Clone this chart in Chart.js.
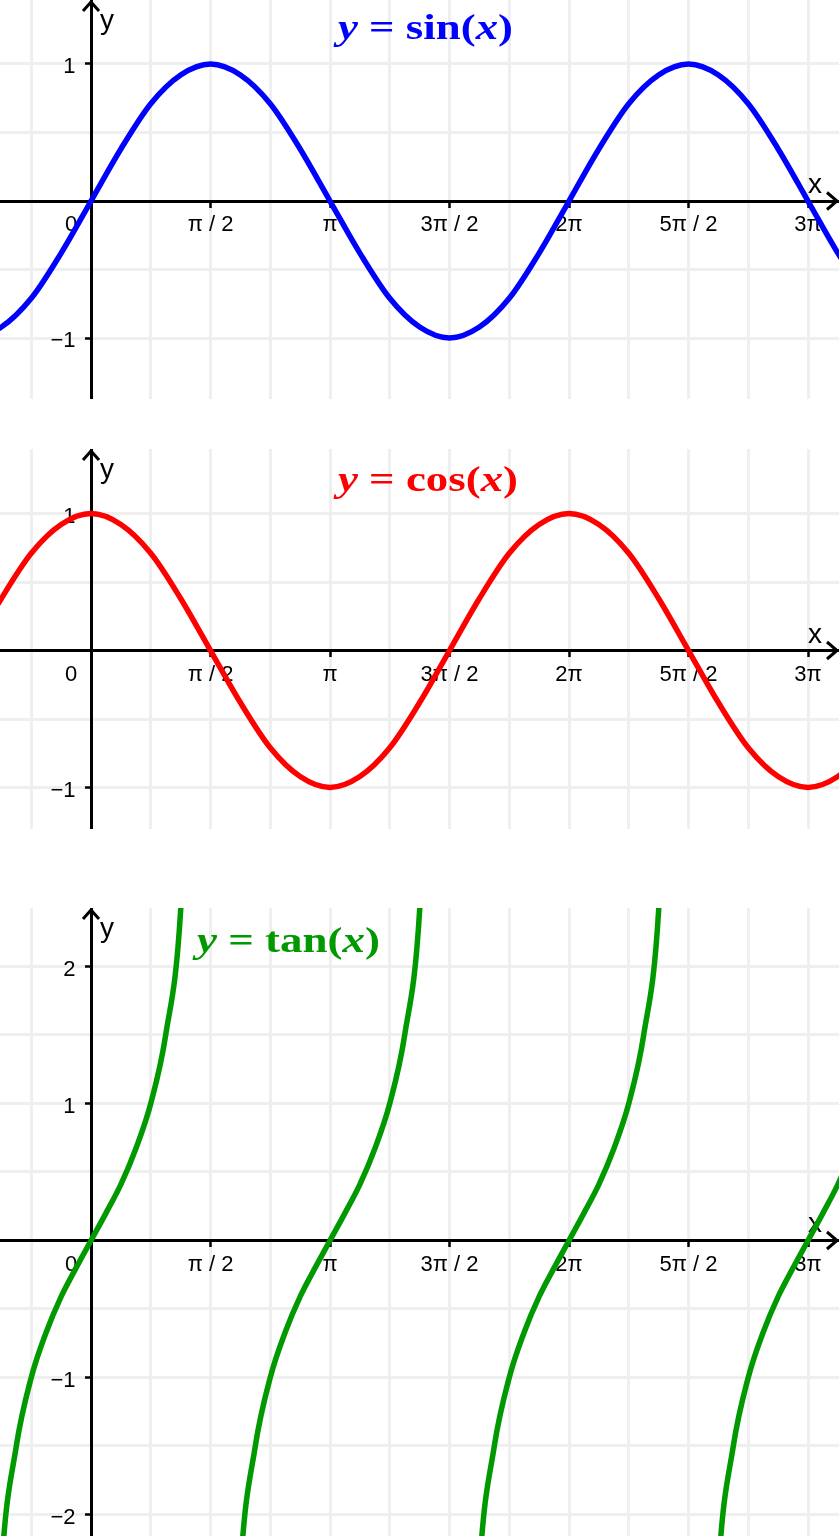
<!DOCTYPE html>
<html>
<head>
<meta charset="utf-8">
<script src="https://cdn.jsdelivr.net/npm/chart.js@4.4.0/dist/chart.umd.min.js"></script>
<style>
  html, body { margin: 0; padding: 0; background: #fff; }
  body { width: 839px; height: 1536px; position: relative; overflow: hidden; }
  .panel { position: absolute; left: 0; width: 839px; }
  #p-sin { top: 0; height: 399px; }
  #p-cos { top: 449px; height: 380px; }
  #p-tan { top: 908px; height: 628px; }
</style>
</head>
<body>
<div class="panel" id="p-sin"><canvas id="sin"></canvas></div>
<div class="panel" id="p-cos"><canvas id="cos"></canvas></div>
<div class="panel" id="p-tan"><canvas id="tan"></canvas></div>
<script>
// x values are in units of pi
var xGrid = [-0.25, 0, 0.25, 0.5, 0.75, 1, 1.25, 1.5, 1.75, 2, 2.25, 2.5, 2.75, 3];
var xTickVals = [0.5, 1, 1.5, 2, 2.5, 3];
var xTickLabels = ["π / 2", "π", "3π / 2", "2π", "5π / 2", "3π"];

var yGrid = [-2, -1.5, -1, -0.5, 0, 0.5, 1, 1.5, 2];
var yTickVals = [-2, -1, 1, 2];
var yTickLabels = ["−2", "−1", "1", "2"];

// sin / cos read every pi/8
var waveX = [-0.5, -0.375, -0.25, -0.125, 0, 0.125, 0.25, 0.375, 0.5, 0.625, 0.75, 0.875,
  1, 1.125, 1.25, 1.375, 1.5, 1.625, 1.75, 1.875, 2, 2.125, 2.25, 2.375, 2.5, 2.625, 2.75, 2.875,
  3, 3.125, 3.25];
var sinY = [-1, -0.92, -0.71, -0.38, 0, 0.38, 0.71, 0.92, 1, 0.92, 0.71, 0.38,
  0, -0.38, -0.71, -0.92, -1, -0.92, -0.71, -0.38, 0, 0.38, 0.71, 0.92, 1, 0.92, 0.71, 0.38,
  0, -0.38, -0.71];
var cosY = [0, 0.38, 0.71, 0.92, 1, 0.92, 0.71, 0.38, 0, -0.38, -0.71, -0.92,
  -1, -0.92, -0.71, -0.38, 0, 0.38, 0.71, 0.92, 1, 0.92, 0.71, 0.38, 0, -0.38, -0.71, -0.92,
  -1, -0.92, -0.71];

// tan read every pi/16, null at the asymptotes
var tanX = [-0.4375, -0.375, -0.3125, -0.25, -0.1875, -0.125, -0.0625, 0, 0.0625, 0.125, 0.1875, 0.25, 0.3125, 0.375, 0.4375,
  0.5, 0.5625, 0.625, 0.6875, 0.75, 0.8125, 0.875, 0.9375, 1, 1.0625, 1.125, 1.1875, 1.25, 1.3125, 1.375, 1.4375,
  1.5, 1.5625, 1.625, 1.6875, 1.75, 1.8125, 1.875, 1.9375, 2, 2.0625, 2.125, 2.1875, 2.25, 2.3125, 2.375, 2.4375,
  2.5, 2.5625, 2.625, 2.6875, 2.75, 2.8125, 2.875, 2.9375, 3, 3.0625, 3.125, 3.1875, 3.25];
var tanY = [-5.03, -2.41, -1.5, -1, -0.67, -0.41, -0.2, 0, 0.2, 0.41, 0.67, 1, 1.5, 2.41, 5.03,
  null, -5.03, -2.41, -1.5, -1, -0.67, -0.41, -0.2, 0, 0.2, 0.41, 0.67, 1, 1.5, 2.41, 5.03,
  null, -5.03, -2.41, -1.5, -1, -0.67, -0.41, -0.2, 0, 0.2, 0.41, 0.67, 1, 1.5, 2.41, 5.03,
  null, -5.03, -2.41, -1.5, -1, -0.67, -0.41, -0.2, 0, 0.2, 0.41, 0.67, 1];

var X_MIN = -0.3808, X_MAX = 3.1297;
var TICK_FONT = { family: "'Liberation Sans', Arial, sans-serif", size: 22 };

// axes sit inside the chart area, so they must not reserve padding
function noPadding(s) {
  s.paddingTop = 0;
  s.paddingBottom = 0;
  s.paddingLeft = 0;
  s.paddingRight = 0;
}

// arrows, axis names and the origin label
var axisDeco = {
  id: "axisDeco",
  beforeDatasetsDraw: function (chart) {
    var ctx = chart.ctx, a = chart.chartArea;
    var x0 = chart.scales.x.getPixelForValue(0);
    var y0 = chart.scales.y.getPixelForValue(0);
    var ty = a.top + 2, tx = a.right - 2;
    ctx.save();
    ctx.strokeStyle = "#000";
    ctx.lineWidth = 3;
    ctx.beginPath();
    ctx.moveTo(x0 - 8, ty + 9);
    ctx.lineTo(x0, ty);
    ctx.lineTo(x0 + 8, ty + 9);
    ctx.stroke();
    ctx.beginPath();
    ctx.moveTo(tx - 10, y0 - 8.5);
    ctx.lineTo(tx, y0);
    ctx.lineTo(tx - 10, y0 + 8.5);
    ctx.stroke();

    ctx.fillStyle = "#000";
    ctx.font = "28px 'Liberation Sans', Arial, sans-serif";
    ctx.textBaseline = "alphabetic";
    ctx.textAlign = "left";
    ctx.fillText("y", x0 + 9, a.top + 29);
    ctx.textAlign = "center";
    ctx.fillText("x", tx - 22, y0 - 8);

    ctx.font = "22px 'Liberation Sans', Arial, sans-serif";
    ctx.textBaseline = "middle";
    ctx.fillText("0", x0 - 20, y0 + 24);
    ctx.restore();
  }
};

// formula above each graph, stretched to the width it has in the picture
var mathTitle = {
  id: "mathTitle",
  afterDatasetsDraw: function (chart, args, opts) {
    if (!opts.parts) return;
    var ctx = chart.ctx;
    var fontFor = function (p) {
      return (p.it ? "italic " : "") + "bold 36px 'Liberation Serif', 'DejaVu Serif', serif";
    };
    ctx.save();
    var total = 0;
    opts.parts.forEach(function (p) {
      ctx.font = fontFor(p);
      total += ctx.measureText(p.t).width;
    });
    ctx.translate(opts.x, opts.y);
    ctx.scale(opts.w / total, 1);
    ctx.fillStyle = opts.color;
    ctx.textBaseline = "alphabetic";
    ctx.textAlign = "left";
    var x = 0;
    opts.parts.forEach(function (p) {
      ctx.font = fontFor(p);
      ctx.fillText(p.t, x, 0);
      x += ctx.measureText(p.t).width;
    });
    ctx.restore();
  }
};

function makeChart(id, xs, ys, color, yMin, yMax, title) {
  var points = xs.map(function (x, i) { return { x: x, y: ys[i] }; });
  return new Chart(document.getElementById(id), {
    type: "scatter",
    data: {
      datasets: [{
        data: points,
        showLine: true,
        borderColor: color,
        borderWidth: 5.5,
        pointRadius: 0,
        cubicInterpolationMode: "monotone",
        spanGaps: false
      }]
    },
    options: {
      responsive: true,
      maintainAspectRatio: false,
      animation: false,
      layout: { padding: 0 },
      plugins: { legend: { display: false }, tooltip: { enabled: false }, mathTitle: title },
      scales: {
        x: {
          type: "linear",
          min: X_MIN,
          max: X_MAX,
          position: { y: 0 },
          afterBuildTicks: function (s) {
            s.ticks = xGrid.map(function (v) { return { value: v }; });
          },
          afterFit: noPadding,
          ticks: {
            autoSkip: false,
            maxRotation: 0,
            padding: 6,
            color: "#000",
            font: TICK_FONT,
            callback: function (v) {
              var i = xTickVals.indexOf(v);
              return i < 0 ? "" : xTickLabels[i];
            }
          },
          grid: {
            color: function (c) { return c.tick && c.tick.value === 0 ? "rgba(0,0,0,0)" : "#efefef"; },
            lineWidth: 3,
            tickLength: 5,
            tickWidth: 2.5,
            tickColor: function (c) { return c.tick && xTickVals.indexOf(c.tick.value) >= 0 ? "#000" : "rgba(0,0,0,0)"; }
          },
          border: { display: true, color: "#000", width: 3 }
        },
        y: {
          type: "linear",
          min: yMin,
          max: yMax,
          position: { x: 0 },
          afterBuildTicks: function (s) {
            s.ticks = yGrid.filter(function (v) { return v >= yMin && v <= yMax; })
              .map(function (v) { return { value: v }; });
          },
          afterFit: noPadding,
          ticks: {
            autoSkip: false,
            labelOffset: 3,
            color: "#000",
            font: TICK_FONT,
            callback: function (v) {
              var i = yTickVals.indexOf(v);
              // the label is drawn right-aligned on the axis itself, keep a gap
              return i < 0 ? "" : yTickLabels[i] + "\u2002\u2009";
            }
          },
          grid: {
            color: function (c) { return c.tick && c.tick.value === 0 ? "rgba(0,0,0,0)" : "#efefef"; },
            lineWidth: 3,
            tickLength: 5,
            tickWidth: 2.5,
            tickColor: function (c) { return c.tick && yTickVals.indexOf(c.tick.value) >= 0 ? "#000" : "rgba(0,0,0,0)"; }
          },
          border: { display: true, color: "#000", width: 3 }
        }
      }
    },
    plugins: [axisDeco, mathTitle]
  });
}

makeChart("sin", waveX, sinY, "#0000ff", -1.445, 1.467, {
  color: "#0000ff", x: 338, y: 39, w: 175,
  parts: [{ t: "y", it: true }, { t: " = " }, { t: "sin(" }, { t: "x", it: true }, { t: ")" }]
});
makeChart("cos", waveX, cosY, "#ff0000", -1.303, 1.471, {
  color: "#ff0000", x: 338, y: 42, w: 180,
  parts: [{ t: "y", it: true }, { t: " = " }, { t: "cos(" }, { t: "x", it: true }, { t: ")" }]
});
makeChart("tan", tanX, tanY, "#009900", -2.157, 2.427, {
  color: "#009900", x: 197, y: 44, w: 183,
  parts: [{ t: "y", it: true }, { t: " = " }, { t: "tan(" }, { t: "x", it: true }, { t: ")" }]
});
</script>
</body>
</html>
